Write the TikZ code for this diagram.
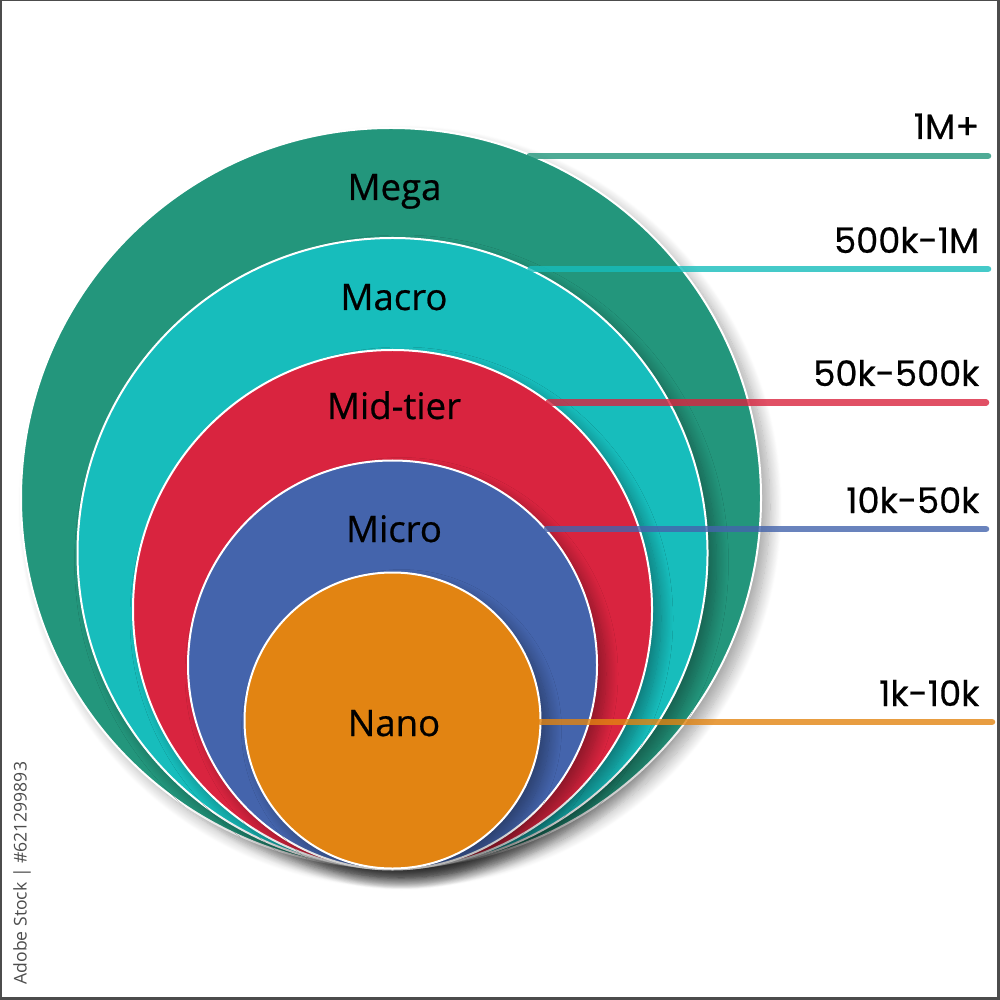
\documentclass[tikz,border=0pt]{standalone}
\usepackage{fontspec}
\setmainfont{Poppins}[FakeBold=0.5]
\newfontfamily\tierfont{Open Sans}[FakeBold=0.6]
\newfontfamily\stockfont{Open Sans}
\usepackage{tikz}
\usetikzlibrary{shadows.blur}
\definecolor{megacol}{HTML}{23967C}
\definecolor{macrocol}{HTML}{17BDBC}
\definecolor{midcol}{HTML}{D9243F}
\definecolor{microcol}{HTML}{4464AC}
\definecolor{nanocol}{HTML}{E28412}
\tikzstyle{ring} = [circle, draw=white, line width=0.2mm, inner sep=0pt, outer sep=0pt, blur shadow={shadow xshift=0.9mm, shadow yshift=-0.9mm, shadow blur radius=1.2mm, shadow blur steps=16, shadow opacity=35}]
\tikzstyle{tier} = [inner sep=0pt, anchor=base, font=\tierfont\fontsize{10.4pt}{11pt}\selectfont, text=black]
\tikzstyle{rangetext} = [inner sep=0pt, anchor=base east, font=\fontsize{10pt}{11pt}\selectfont, text=black]
\tikzstyle{leader} = [line width=0.65mm, line cap=round, opacity=0.8]

\begin{document}
\begin{tikzpicture}
\useasboundingbox (0,0) rectangle (10,-10);
\draw [black!70, line width=0.3mm] (0,0) rectangle (9.985,-9.985);

\node (mega) [ring, fill=megacol, minimum size=7.40cm] at (3.91,-4.98) {};
\node (macro) [ring, fill=macrocol, minimum size=6.30cm] at (3.925,-5.53) {};
\node (mid) [ring, fill=midcol, minimum size=5.19cm] at (3.925,-6.095) {};
\node (micro) [ring, fill=microcol, minimum size=4.09cm] at (3.925,-6.65) {};
\node (nano) [ring, fill=nanocol, minimum size=2.96cm] at (3.925,-7.205) {};

\node (megatext) [tier] at (3.945,-2.00) {Mega};
\node (macrotext) [tier] at (3.94,-3.10) {Macro};
\node (midtext) [tier] at (3.94,-4.19) {Mid-tier};
\node (microtext) [tier] at (3.94,-5.42) {Micro};
\node (nanotext) [tier] at (3.94,-7.36) {Nano};

\coordinate (megaend) at (9.88,-1.56);
\coordinate (macroend) at (9.88,-2.69);
\coordinate (midend) at (9.86,-4.025);
\coordinate (microend) at (9.86,-5.29);
\coordinate (nanoend) at (9.92,-7.22);

\draw [leader, megacol] (megaend -| mega.68) -- (megaend);
\draw [leader, macrocol] (macroend -| macro.64.2) -- (macroend);
\draw [leader, midcol] (midend -| mid.53.2) -- (midend);
\draw [leader, microcol] (microend -| micro.41.6) -- (microend);
\draw [leader, nanocol] (nanoend -| nano.east) -- (nanoend);

\node (megarange) [rangetext] at (9.80,-1.39) {1M+};
\node (macrorange) [rangetext] at (9.80,-2.53) {500k-1M};
\node (midrange) [rangetext] at (9.80,-3.86) {50k-500k};
\node (microrange) [rangetext] at (9.80,-5.13) {10k-50k};
\node (nanorange) [rangetext] at (9.80,-7.06) {1k-10k};

\node (stock) [rotate=90, anchor=west, inner sep=0pt, text=black!70, font=\stockfont\fontsize{5pt}{6pt}\selectfont] at (0.22,-9.85) {Adobe Stock | \#621299893};
\end{tikzpicture}
\end{document}
